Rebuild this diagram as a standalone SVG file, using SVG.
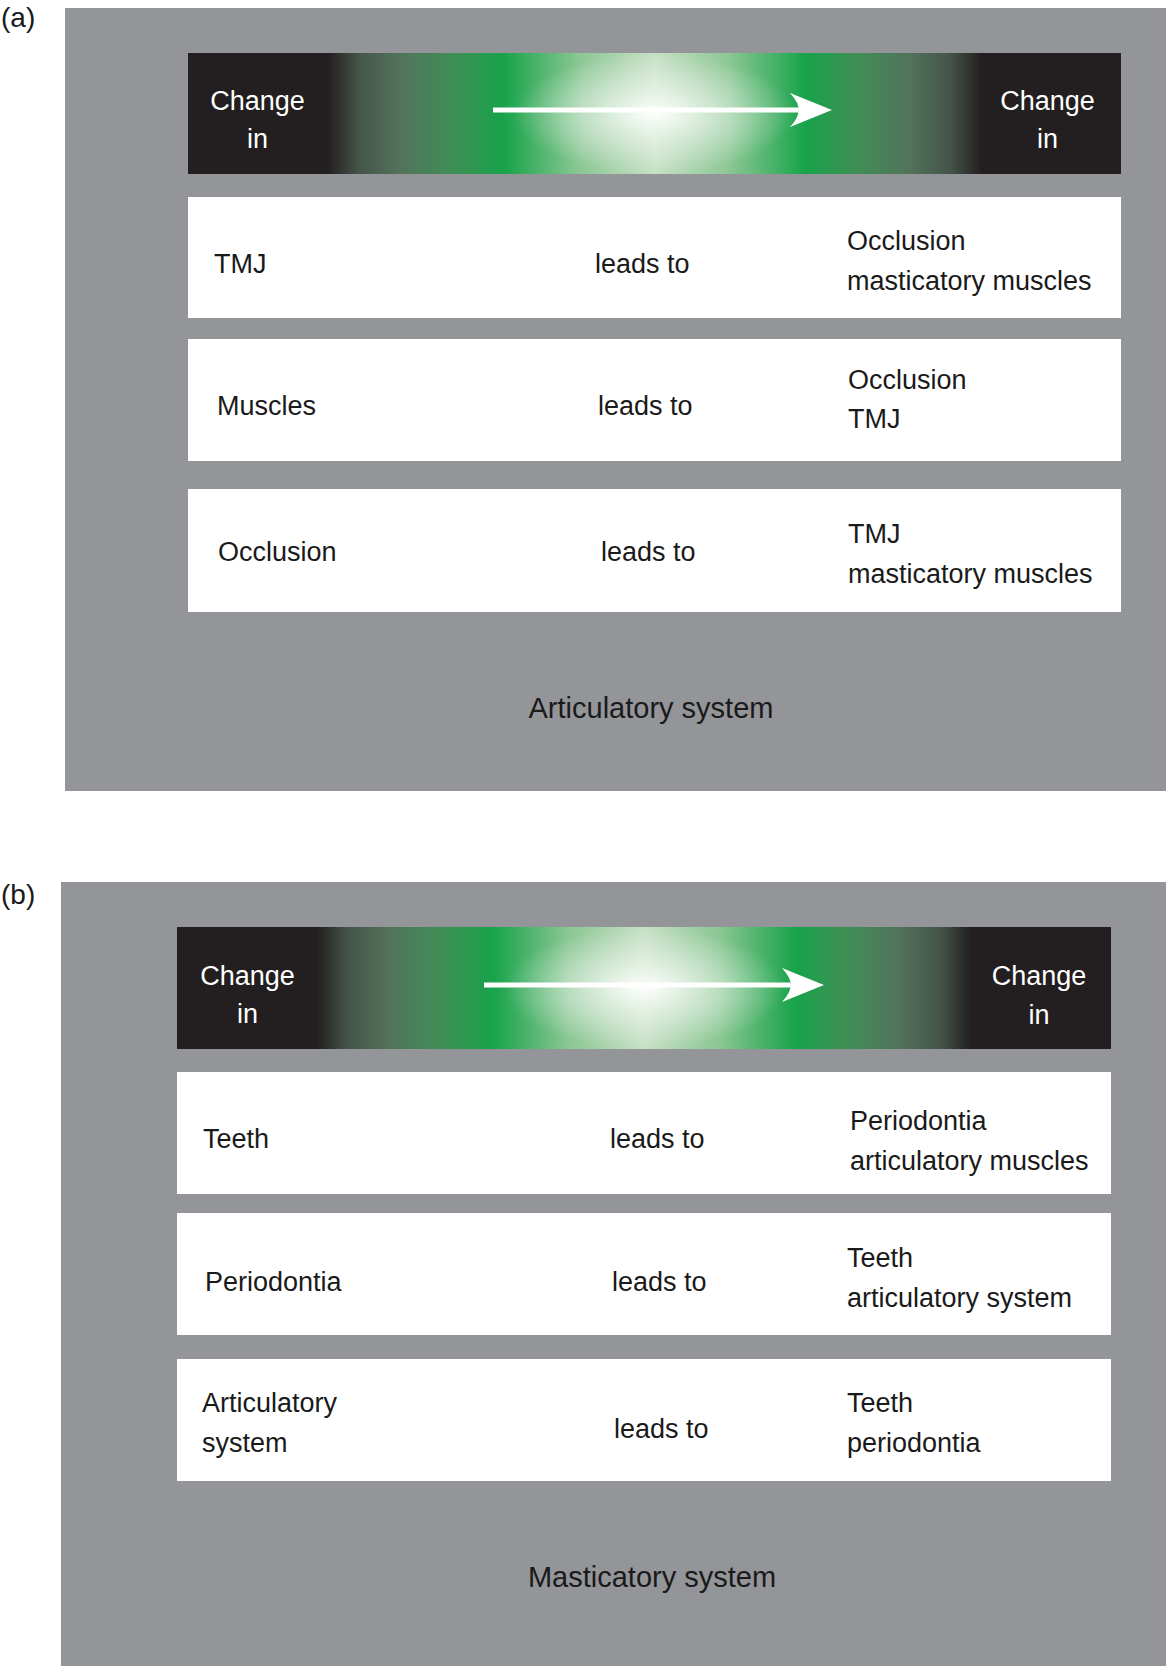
<svg xmlns="http://www.w3.org/2000/svg" width="1166" height="1666" viewBox="0 0 1166 1666">
<defs>
<style>
.panel{fill:#939598}
.row{fill:#ffffff}
.t{font-family:"Liberation Sans",Arial,sans-serif;font-size:27px;fill:#1a1a1a}
.w{font-family:"Liberation Sans",Arial,sans-serif;font-size:27px;fill:#ffffff}
.cap{font-family:"Liberation Sans",Arial,sans-serif;font-size:29px;fill:#1a1a1a}
.lab{font-family:"Liberation Sans",Arial,sans-serif;font-size:28px;fill:#1a1a1a}
.shaft{stroke:#ffffff;stroke-width:5;fill:none}
.head{fill:#ffffff}
</style>
<linearGradient id="band" x1="0" y1="0" x2="1" y2="0">
<stop offset="0" stop-color="#231f20"/>
<stop offset="0.150" stop-color="#231f20"/>
<stop offset="0.184" stop-color="#46554a"/>
<stop offset="0.227" stop-color="#52735c"/>
<stop offset="0.285" stop-color="#3f8f55"/>
<stop offset="0.338" stop-color="#17a34a"/>
<stop offset="0.420" stop-color="#8cc794"/>
<stop offset="0.500" stop-color="#c6e0c4"/>
<stop offset="0.580" stop-color="#8cc794"/>
<stop offset="0.662" stop-color="#17a34a"/>
<stop offset="0.715" stop-color="#3f8f55"/>
<stop offset="0.773" stop-color="#52735c"/>
<stop offset="0.816" stop-color="#46554a"/>
<stop offset="0.850" stop-color="#231f20"/>
<stop offset="1" stop-color="#231f20"/>
</linearGradient>
<radialGradient id="glow" cx="0.5" cy="0.5" r="0.5">
<stop offset="0" stop-color="#ffffff" stop-opacity="0.95"/>
<stop offset="0.3" stop-color="#ffffff" stop-opacity="0.6"/>
<stop offset="1" stop-color="#ffffff" stop-opacity="0"/>
</radialGradient>
</defs>

<rect width="1166" height="1666" fill="#ffffff"/>

<!-- Panel (a) -->
<g id="label-a"><text class="lab" x="1" y="27">(a)</text></g>
<g id="panel-a">
<rect class="panel" x="65" y="8" width="1101" height="783"/>
<text class="cap" x="651" y="718" text-anchor="middle">Articulatory system</text>
</g>
<g id="header-a">
<rect x="188" y="53" width="933" height="121" fill="url(#band)"/>
<rect x="514" y="53" width="281" height="121" fill="url(#glow)"/>
<text class="w" x="257.5" y="110" text-anchor="middle">Change</text>
<text class="w" x="257.5" y="148" text-anchor="middle">in</text>
<text class="w" x="1047.5" y="110" text-anchor="middle">Change</text>
<text class="w" x="1047.5" y="148" text-anchor="middle">in</text>
</g>
<g id="row-a1">
<rect class="row" x="188" y="197" width="933" height="121"/>
<text class="t" x="214" y="273">TMJ</text>
<text class="t" x="595" y="273">leads to</text>
<text class="t" x="847" y="250">Occlusion</text>
<text class="t" x="847" y="290">masticatory muscles</text>
</g>
<g id="row-a2">
<rect class="row" x="188" y="339" width="933" height="122"/>
<text class="t" x="217" y="415">Muscles</text>
<text class="t" x="598" y="415">leads to</text>
<text class="t" x="848" y="389">Occlusion</text>
<text class="t" x="848" y="428">TMJ</text>
</g>
<g id="row-a3">
<rect class="row" x="188" y="489" width="933" height="123"/>
<text class="t" x="218" y="561">Occlusion</text>
<text class="t" x="601" y="561">leads to</text>
<text class="t" x="848" y="543">TMJ</text>
<text class="t" x="848" y="583">masticatory muscles</text>
</g>

<!-- Panel (b) -->
<g id="label-b"><text class="lab" x="1" y="904">(b)</text></g>
<g id="panel-b">
<rect class="panel" x="61" y="882" width="1105" height="784"/>
<text class="cap" x="652" y="1587" text-anchor="middle">Masticatory system</text>
</g>
<g id="header-b">
<rect x="177" y="927" width="934" height="122" fill="url(#band)"/>
<rect x="504" y="927" width="281" height="122" fill="url(#glow)"/>
<text class="w" x="247.5" y="985" text-anchor="middle">Change</text>
<text class="w" x="247.5" y="1023" text-anchor="middle">in</text>
<text class="w" x="1039" y="985" text-anchor="middle">Change</text>
<text class="w" x="1039" y="1024" text-anchor="middle">in</text>
</g>
<g id="row-b1">
<rect class="row" x="177" y="1072" width="934" height="122"/>
<text class="t" x="203" y="1148">Teeth</text>
<text class="t" x="610" y="1148">leads to</text>
<text class="t" x="850" y="1130">Periodontia</text>
<text class="t" x="850" y="1170">articulatory muscles</text>
</g>
<g id="row-b2">
<rect class="row" x="177" y="1213" width="934" height="122"/>
<text class="t" x="205" y="1291">Periodontia</text>
<text class="t" x="612" y="1291">leads to</text>
<text class="t" x="847" y="1267">Teeth</text>
<text class="t" x="847" y="1307">articulatory system</text>
</g>
<g id="row-b3">
<rect class="row" x="177" y="1359" width="934" height="122"/>
<text class="t" x="202" y="1412">Articulatory</text>
<text class="t" x="202" y="1452">system</text>
<text class="t" x="614" y="1438">leads to</text>
<text class="t" x="847" y="1412">Teeth</text>
<text class="t" x="847" y="1452">periodontia</text>
</g>

<!-- Connectors -->
<g id="connectors">
<g id="arrow-a">
<line class="shaft" x1="493" y1="110" x2="798" y2="110"/>
<path class="head" d="M832,110 L790,93 Q800,104 798,110 Q800,116 790,127 Z"/>
</g>
<g id="arrow-b">
<line class="shaft" x1="484" y1="985" x2="790" y2="985"/>
<path class="head" d="M824,985 L782,968 Q792,979 790,985 Q792,991 782,1002 Z"/>
</g>
</g>
</svg>
